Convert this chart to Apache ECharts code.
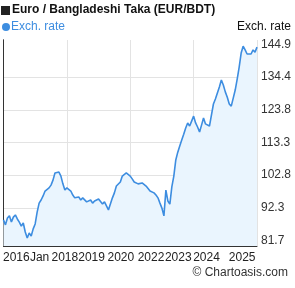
<!DOCTYPE html>
<html><head><meta charset="utf-8">
<script src="https://cdn.jsdelivr.net/npm/echarts@6/dist/echarts.min.js"></script>
<style>html,body{margin:0;padding:0;background:#fff}#c{width:295px;height:288px}</style>
</head><body><div id="c"></div>
<script>
const titleText = 'Euro / Bangladeshi Taka (EUR/BDT)';
const seriesName = 'Exch. rate';
const values = [
88.4,86.8,89.0,89.7,87.7,89.3,90.0,88.7,87.7,86.4,87.4,84.5,82.6,84.2,83.2,85.5,87.1,90.9,93.8,94.8,
96.1,97.7,98.0,98.7,99.6,101.2,103.5,103.2,103.8,102.5,100.0,98.0,98.7,99.0,97.7,96.4,95.5,95.1,95.8,94.8,
95.5,95.1,94.2,94.5,94.8,93.8,94.5,94.8,95.1,94.5,93.5,94.2,93.8,91.6,91.9,95.5,97.1,99.3,99.6,100.6,
102.5,102.5,103.5,103.8,102.5,101.6,100.6,100.6,100.0,99.6,100.3,100.0,99.3,98.7,97.7,97.4,97.1,96.4,95.5,93.8,
92.2,89.7,98.0,94.5,93.5,99.0,102.5,107.7,110.2,112.2,114.1,116.0,118.0,119.6,118.6,120.2,121.8,119.6,118.3,116.7,
118.9,121.2,119.3,119.9,118.6,118.0,125.7,127.3,127.3,131.2,133.4,131.8,129.6,127.9,125.7,125.0,127.6,130.2,133.7,137.6,
142.1,144.3,143.1,141.8,142.4,141.8,143.1,142.4,144.0
];
const xTickPos = [6.5, 18.25, 31, 44.5, 59.25, 74.5, 88.25, 102.5, 120.5];
const xTickText = ['2016','Jan','2018','2019','2020','2022','2023','2024','2025'];
const yTicks = [81.7, 92.3, 102.8, 113.3, 123.8, 134.4, 144.9];
const yMin = 80.0, yMax = 146.3;

const chart = echarts.init(document.getElementById('c'), null, {renderer:'canvas'});
const font = 'Arial, "Liberation Sans", sans-serif';
chart.setOption({
  animation:false,
  textStyle:{fontFamily:font},
  title:{text:titleText,left:12,top:4,padding:0,textStyle:{fontSize:12,fontWeight:'bold',color:'#111',fontFamily:font}},
  legend:{left:2,top:21,padding:0,icon:'circle',itemWidth:8,itemHeight:8,
    textStyle:{fontSize:12,color:'#3d8de0',padding:[0,0,0,-4],fontFamily:font},
    data:[{name:seriesName,itemStyle:{color:'#3d8de0'}}]},
  graphic:[
    {type:'rect',shape:{x:1,y:6,width:9,height:9},style:{fill:'#222'}},
    {type:'text',style:{text:'Exch. rate',x:291,y:27,align:'right',verticalAlign:'middle',font:'12px '+font,fill:'#111'}},
    {type:'text',style:{text:'\u00a9 Chartoasis.com',x:288,y:273,align:'right',verticalAlign:'middle',font:'12px '+font,fill:'#333'}}
  ],
  grid:{left:1,right:38,top:40,bottom:42,containLabel:false},
  xAxis:[
    {type:'value',min:0,max:values.length-1,
     axisLine:{show:true,lineStyle:{color:'#333',width:1}},
     axisTick:{show:false},
     splitLine:{show:false},
     axisLabel:{customValues:xTickPos,margin:6,fontSize:12,color:'#222',
       formatter:function(v){const i=xTickPos.indexOf(v);return i>=0?xTickText[i]:'';}}},
    {type:'value',min:0,max:4,interval:1,position:'top',
     axisLine:{show:false},axisTick:{show:false},axisLabel:{show:false},
     splitLine:{show:true,lineStyle:{color:'#e3e3e3',width:1}}}
  ],
  yAxis:[
    {type:'value',position:'right',min:yMin,max:yMax,
     axisLine:{show:true,lineStyle:{color:'#333',width:1}},
     axisTick:{show:false,customValues:yTicks.slice(0,6)},
     axisLabel:{customValues:yTicks,margin:4,fontSize:12,color:'#333',
       formatter:function(v){return v.toFixed(1);}},
     splitLine:{show:true,lineStyle:{color:'#e3e3e3',width:1}}},
    {type:'value',position:'left',min:yMin,max:yMax,
     axisLine:{show:true,lineStyle:{color:'#333',width:1}},
     axisTick:{show:false},axisLabel:{show:false},splitLine:{show:false}}
  ],
  series:[{
    name:seriesName,type:'line',xAxisIndex:0,yAxisIndex:0,
    data:values.map((v,i)=>[i,v]),
    symbol:'none',
    lineStyle:{color:'#3d8de0',width:1.6},
    itemStyle:{color:'#3d8de0'},
    areaStyle:{color:'#eaf5fe',opacity:1}
  }]
});
</script></body></html>
